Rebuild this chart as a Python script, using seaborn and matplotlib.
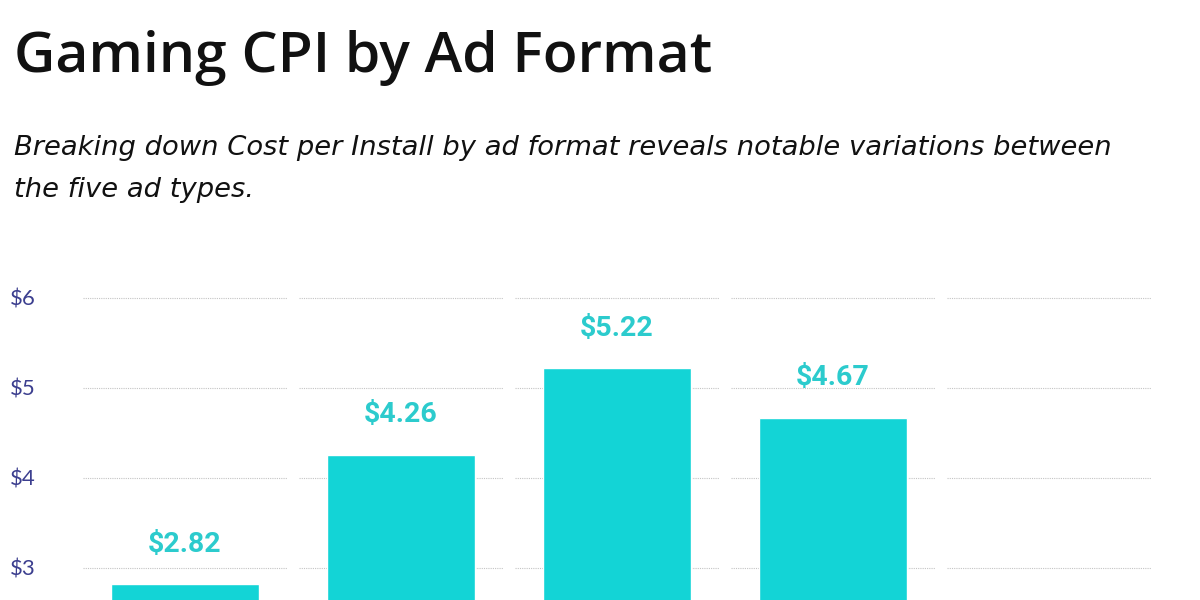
import pandas as pd
import seaborn as sns
import matplotlib.pyplot as plt

# data (fifth bar is cut off below the visible area; value estimated)
formats = ['Banner', 'Interstitial', 'Native', 'Playable', 'Rewarded Video']
cpi = [2.82, 4.26, 5.22, 4.67, 2.10]
yticks = [3, 4, 5, 6]
ytick_labels = ['$3', '$4', '$5', '$6']

df = pd.DataFrame({'format': formats, 'cpi': cpi})

sns.set_style('white')
plt.rcParams['font.family'] = ['Open Sans', 'DejaVu Sans']

fig = plt.figure(figsize=(12, 6), dpi=100)
# axes runs off the bottom edge, like the cropped original
ax = fig.add_axes([77/1200, 0, 1080/1200, 330/600])

teal = '#13d4d6'
sns.barplot(data=df, x='format', y='cpi', color=teal, width=0.685,
            saturation=1, ax=ax, zorder=3)

# dotted gridline segments, one per category slot
gap = 6/216
for i in range(len(formats)):
    for t in yticks:
        ax.hlines(t, i - 0.5 + gap, i + 0.5 - gap, colors='#c4c4c4',
                  linestyles=(0, (1, 1)), linewidth=0.8, zorder=1)

for i, v in enumerate(cpi):
    ax.annotate('${:.2f}'.format(v), (i, v), xytext=(0, 19),
                textcoords='offset points', ha='center', va='bottom',
                fontsize=20.5, fontweight='bold', color='#2ccbcd',
                family=['Roboto', 'DejaVu Sans'])

ax.set_xlim(-0.5, len(formats) - 0.5)
ax.set_ylim(3 - 32/90, 6 + 28/90)
ax.set_yticks(yticks)
ax.set_yticklabels(ytick_labels, fontsize=16, color='#3c3f8f',
                   family=['Lato', 'DejaVu Sans'])
ax.tick_params(axis='y', length=0, pad=30)
ax.set_xticks([])
ax.set_xlabel('')
ax.set_ylabel('')
for s in ax.spines.values():
    s.set_visible(False)

fig.text(14/1200, 1 - 72/600, 'Gaming CPI by Ad Format', fontsize=41,
         fontweight='semibold', color='#111111', va='baseline', ha='left')
sub = dict(fontsize=19.7, style='italic', color='#111111', va='baseline',
           ha='left', family=['DejaVu Sans'])
fig.text(14/1200, 1 - 155/600,
         'Breaking down Cost per Install by ad format reveals notable variations between',
         **sub)
fig.text(14/1200, 1 - 197/600, 'the five ad types.', **sub)

fig.savefig('out.png', dpi=100)
